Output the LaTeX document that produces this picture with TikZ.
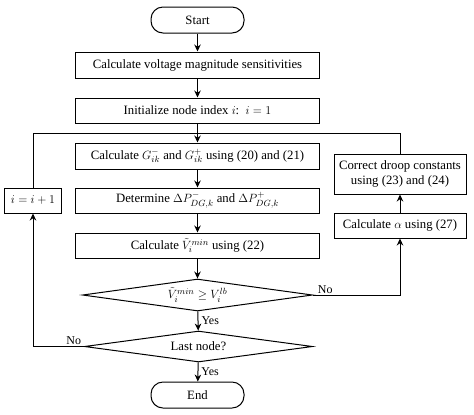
\documentclass[tikz,border=0pt]{standalone}
\usepackage{fontspec}
\setmainfont{Liberation Serif}
\usetikzlibrary{shapes.geometric,arrows.meta}
\tikzset{
  every node/.style={font=\fontsize{12.8}{14.8}\selectfont},
  box/.style={draw, line width=1bp, inner sep=0pt, align=center},
  term/.style={draw, line width=1bp, rounded corners=12bp, minimum width=93bp, minimum height=26bp, inner sep=0pt},
  dec/.style={draw, line width=1bp, diamond, aspect=7, inner sep=0pt},
  conn/.style={line width=1bp},
  arr/.style={conn, -{Stealth[length=7bp,width=6.5bp]}},
  lbl/.style={font=\fontsize{12}{14}\selectfont, inner sep=1bp}
}
\begin{document}
\begin{tikzpicture}[x=1bp,y=-1bp]
\useasboundingbox (0,0) rectangle (474,414);
\node[term] (start) at (197.5,20) {Start};
\node[box, minimum width=244bp, minimum height=26bp] (calc) at (197.5,65) {Calculate voltage magnitude sensitivities};
\node[box, minimum width=244bp, minimum height=25bp] (init) at (197.5,110.5) {Initialize node index $i$:\, $i=1$};
\node[box, minimum width=244bp, minimum height=26bp] (G) at (197.5,156) {Calculate $G_{ik}^{-}$ and $G_{ik}^{+}$ using (20) and (21)};
\node[box, minimum width=244bp, minimum height=25bp] (det) at (197.5,200.5) {Determine $\Delta P_{DG,k}^{-}$ and $\Delta P_{DG,k}^{+}$};
\node[box, minimum width=244bp, minimum height=25bp] (vmin) at (197.5,245.5) {Calculate $\tilde{V}_i^{min}$ using (22)};
\node[dec, minimum width=230bp, minimum height=32bp] (d1) at (197.5,295) {$\tilde{V}_i^{min} \geq V_i^{lb}$};
\node[dec, minimum width=228bp, minimum height=31bp] (d2) at (198.5,346.5) {Last node?};
\node[term] (end) at (197.5,395) {End};
\node[box, minimum width=56bp, minimum height=25bp] (inc) at (33,200.5) {$i=i+1$};
\node[box, minimum width=132bp, minimum height=40bp] (droop) at (400,174) {Correct droop constants\\using (23) and (24)};
\node[box, minimum width=132bp, minimum height=25bp] (alpha) at (400,225.5) {Calculate $\alpha$ using (27)};
\coordinate (join) at (197.5,133);
\coordinate (rc) at (400,295);
\coordinate (lc) at (33,346.5);
\coordinate (rt) at (400,133);
\coordinate (lt) at (33,133);
\draw[arr] (start) -- (calc);
\draw[arr] (calc) -- (init);
\draw[arr] (init) -- (G);
\draw[arr] (G) -- (det);
\draw[arr] (det) -- (vmin);
\draw[arr] (vmin) -- (d1);
\draw[arr] (d1) -- node[lbl, right, xshift=2bp] (yes1) {Yes} (d2);
\draw[arr] (d2) -- node[lbl, right, xshift=2bp] (yes2) {Yes} (end);
\draw[arr] (d1.east) -- node[lbl, pos=0.14, above] (no1) {No} (rc) -- (alpha.south);
\draw[arr] (alpha) -- (droop);
\draw[conn] (droop.north) -- (rt) -- (join);
\draw[arr] (d2.west) -- node[lbl, pos=0.2, above] (no2) {No} (lc) -- (inc.south);
\draw[conn] (inc.north) -- (lt) -- (join);
\end{tikzpicture}
\end{document}
